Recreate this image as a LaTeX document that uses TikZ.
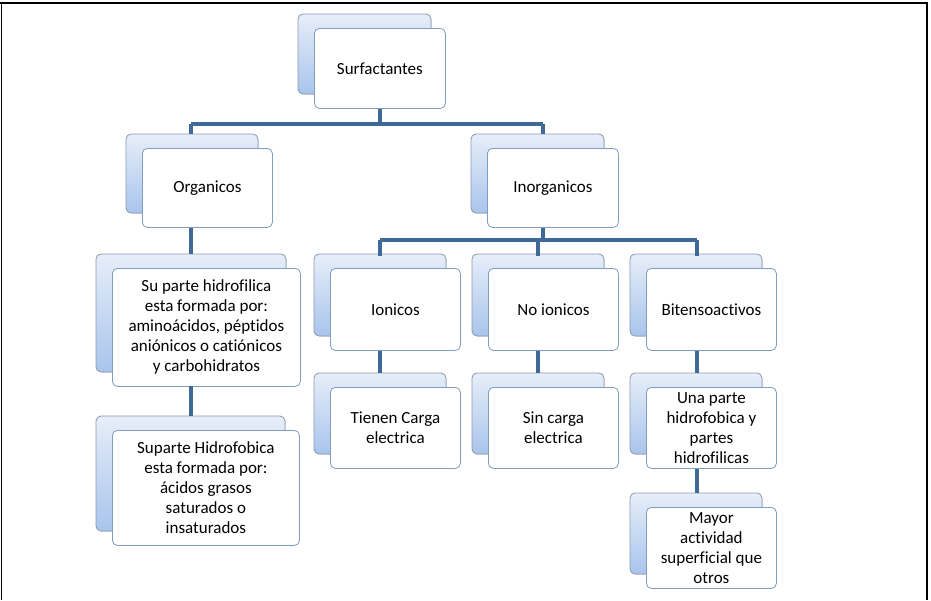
\documentclass[tikz,border=0pt]{standalone}
\usepackage{fontspec}
\setmainfont{Carlito}[Ligatures=NoCommon]
\definecolor{conn}{HTML}{3F6A98}
\definecolor{backtop}{HTML}{E6EEF9}
\definecolor{backbot}{HTML}{A9C4EC}
\definecolor{backdraw}{HTML}{8C9BB0}
\definecolor{frontdraw}{HTML}{7F9CC4}
\tikzset{
  backbox/.style={draw=backdraw,rounded corners=5pt,top color=backtop,bottom color=backbot,line width=0.8pt},
  frontbox/.style={draw=frontdraw,rounded corners=5pt,fill=white,line width=0.8pt,align=center,font=\fontsize{17}{20}\selectfont,inner sep=1pt},
  link/.style={draw=conn,line width=3.5pt}
}
\newcommand{\mkbox}[6]{%
  \fill[backbox] (#2-16,#3-14) rectangle (#4-14,#5-14);
  \node[frontbox,minimum width=#4-#2,minimum height=#5-#3,anchor=north west] (#1) at (#2,#3) {#6};}
\begin{document}
\begin{tikzpicture}[x=1pt,y=-1pt]
\useasboundingbox (0,0) rectangle (931,600);
\fill[white] (0,0) rectangle (931,600);
\draw[line width=1.5pt] (0,3) -- (927,3) -- (927,600);
\draw[line width=1pt] (1,3) -- (1,600);
\coordinate (b1l) at (191,124); \coordinate (b1r) at (543,124);
\coordinate (b2l) at (380,240); \coordinate (b2r) at (697,240);
\mkbox{surf}{314}{28}{445}{108}{Surfactantes}
\mkbox{org}{142}{148}{272}{227}{Organicos}
\mkbox{inorg}{487}{148}{618}{227}{Inorganicos}
\mkbox{hfil}{112}{268}{300}{386}{Su parte hidrofilica\\esta formada por:\\aminoácidos, péptidos\\aniónicos o catiónicos\\y carbohidratos}
\mkbox{hfob}{112}{430}{299}{545}{Suparte Hidrofobica\\esta formada por:\\ácidos grasos\\saturados o\\insaturados}
\mkbox{ion}{330}{268}{460}{350}{Ionicos}
\mkbox{noion}{488}{268}{618}{350}{No ionicos}
\mkbox{bit}{646}{268}{776}{350}{Bitensoactivos}
\mkbox{carga}{330}{387}{460}{468}{Tienen Carga\\electrica}
\mkbox{sinc}{488}{387}{618}{468}{Sin carga\\electrica}
\mkbox{una}{646}{387}{776}{468}{Una parte\\hidrofobica y\\partes\\hidrofilicas}
\mkbox{mayor}{646}{507}{776}{588}{Mayor\\actividad\\superficial que\\otros}
\draw[link] (surf.south) -- (surf.south |- b1l);
\draw[link] (b1l) -- (b1r);
\draw[link] (b1l) -- (191,134);
\draw[link] (b1r) -- (543,134);
\draw[link] (org.south -| 191,0) -- (191,254);
\draw[link] (191,386) -- (191,416);
\draw[link] (inorg.south -| b1r) -- (543,240);
\draw[link] (b2l) -- (b2r);
\draw[link] (b2l) -- (380,256);
\draw[link] (538,240) -- (538,256);
\draw[link] (b2r) -- (697,256);
\draw[link] (ion.south -| b2l) -- (380,373);
\draw[link] (noion.south -| 538,0) -- (538,373);
\draw[link] (bit.south -| b2r) -- (697,373);
\draw[link] (una.south -| b2r) -- (697,493);
\end{tikzpicture}
\end{document}
